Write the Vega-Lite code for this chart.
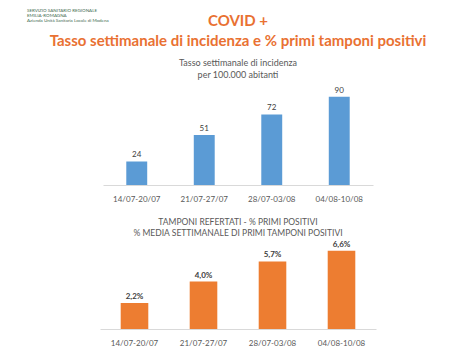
{
  "$schema": "https://vega.github.io/schema/vega-lite/v6.json",
  "padding": {"left": 27, "top": 7, "right": 5, "bottom": 5},
  "background": "white",
  "title": {
    "text": ["SERVIZIO SANITARIO REGIONALE", "EMILIA-ROMAGNA", "Azienda Unità Sanitaria Locale di Modena"],
    "anchor": "start",
    "frame": "group",
    "dx": -73,
    "font": "Lato",
    "fontSize": 4.5,
    "fontWeight": "normal",
    "lineHeight": 5.4,
    "color": "#3f6b4f",
    "offset": -9
  },
  "config": {
    "font": "Lato",
    "view": {"stroke": null},
    "axis": {"grid": false}
  },
  "vconcat": [
    {
      "title": {
        "text": ["COVID +", "Tasso settimanale di incidenza e % primi tamponi positivi"],
        "anchor": "middle",
        "font": "Lato",
        "fontSize": 15,
        "fontWeight": "bold",
        "lineHeight": 20,
        "color": "#E97132",
        "offset": 10
      },
      "center": true,
      "spacing": 15,
      "vconcat": [
        {
          "width": 270,
          "height": 98,
          "title": {
            "text": ["Tasso settimanale di incidenza", "per 100.000 abitanti"],
            "font": "Lato",
            "fontSize": 9,
            "fontWeight": "normal",
            "lineHeight": 12,
            "color": "#595959",
            "offset": 7
          },
          "data": {"values": [
            {"settimana": "14/07-20/07", "tasso": 24},
            {"settimana": "21/07-27/07", "tasso": 51},
            {"settimana": "28/07-03/08", "tasso": 72},
            {"settimana": "04/08-10/08", "tasso": 90}
          ]},
          "encoding": {
            "x": {
              "field": "settimana", "type": "nominal", "sort": null,
              "scale": {"paddingInner": 0.69, "paddingOuter": 0.345},
              "axis": {"title": null, "labelAngle": 0, "ticks": false, "domainColor": "#d9d9d9", "labelColor": "#595959", "labelFontSize": 8, "labelPadding": 10, "labelFont": "Lato"}
            },
            "y": {"field": "tasso", "type": "quantitative", "scale": {"domain": [0, 100]}, "axis": null}
          },
          "layer": [
            {"mark": {"type": "bar", "color": "#5B9BD5"}},
            {"mark": {"type": "text", "baseline": "alphabetic", "dy": -4, "fontSize": 8, "color": "#404040", "font": "Lato"},
             "encoding": {"text": {"field": "tasso", "type": "quantitative"}}}
          ]
        },
        {
          "width": 276,
          "height": 83,
          "title": {
            "text": ["TAMPONI REFERTATI - % PRIMI POSITIVI", "% MEDIA SETTIMANALE DI PRIMI TAMPONI POSITIVI"],
            "font": "Lato",
            "fontSize": 8.5,
            "fontWeight": "normal",
            "lineHeight": 11,
            "color": "#595959",
            "offset": 3
          },
          "data": {"values": [
            {"settimana": "14/07-20/07", "percentuale": 2.2, "etichetta": "2,2%"},
            {"settimana": "21/07-27/07", "percentuale": 4.0, "etichetta": "4,0%"},
            {"settimana": "28/07-03/08", "percentuale": 5.7, "etichetta": "5,7%"},
            {"settimana": "04/08-10/08", "percentuale": 6.6, "etichetta": "6,6%"}
          ]},
          "encoding": {
            "x": {
              "field": "settimana", "type": "nominal", "sort": null,
              "scale": {"paddingInner": 0.6, "paddingOuter": 0.3},
              "axis": {"title": null, "labelAngle": 0, "ticks": false, "domainColor": "#d9d9d9", "labelColor": "#595959", "labelFontSize": 8, "labelPadding": 10, "labelFont": "Lato"}
            },
            "y": {"field": "percentuale", "type": "quantitative", "scale": {"domain": [0, 7]}, "axis": null}
          },
          "layer": [
            {"mark": {"type": "bar", "color": "#ED7D31"}},
            {"mark": {"type": "text", "baseline": "alphabetic", "dy": -4, "fontSize": 8, "fontWeight": "bold", "color": "#404040", "font": "Lato"},
             "encoding": {"text": {"field": "etichetta", "type": "nominal"}}}
          ]
        }
      ]
    }
  ]
}
